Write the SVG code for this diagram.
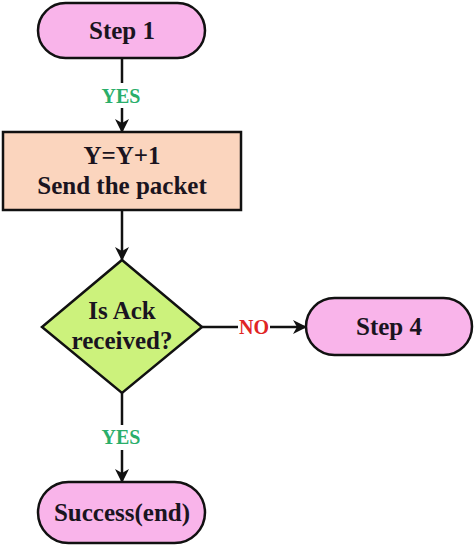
<svg xmlns="http://www.w3.org/2000/svg" width="474" height="547" viewBox="0 0 474 547">
<defs>
<marker id="ah" markerWidth="14" markerHeight="14" refX="13" refY="7" orient="auto" markerUnits="userSpaceOnUse" viewBox="0 0 14 14">
<path d="M0,0 L14,7 L0,14 L4,7 Z" fill="#111"/>
</marker>
<style>
.t{font-family:"Liberation Serif","Times New Roman",serif;font-weight:bold;font-size:25px;fill:#1a1420;text-anchor:middle}
.term{fill:#f9b4ea;stroke:#111;stroke-width:2.5}
.lbl{font-family:"Liberation Serif","Times New Roman",serif;font-weight:bold;font-size:20px;text-anchor:middle}
.c{stroke:#111;stroke-width:2.5;fill:none}
</style>
</defs>
<rect width="474" height="547" fill="#fff"/>
<g id="connectors">
<line class="c" x1="122" y1="58" x2="122" y2="83"/>
<line class="c" x1="122" y1="108" x2="122" y2="132" marker-end="url(#ah)"/>
<line class="c" x1="122" y1="210" x2="122" y2="260" marker-end="url(#ah)"/>
<line class="c" x1="202" y1="327" x2="238" y2="327"/>
<line class="c" x1="270" y1="327" x2="306" y2="327" marker-end="url(#ah)"/>
<line class="c" x1="122" y1="393" x2="122" y2="425"/>
<line class="c" x1="122" y1="450" x2="122" y2="482" marker-end="url(#ah)"/>
<text class="lbl" x="121" y="103" fill="#2aae6a">YES</text>
<text class="lbl" x="254" y="334" fill="#e02424">NO</text>
<text class="lbl" x="121" y="444" fill="#2aae6a">YES</text>
</g>
<g id="step1">
<rect class="term" x="38" y="3" width="167" height="55" rx="27.5"/>
<text class="t" x="122" y="39">Step 1</text>
</g>
<g id="send">
<rect x="3" y="132" width="238" height="78" fill="#fbd5be" stroke="#111" stroke-width="2.5"/>
<text class="t" x="122" y="164">Y=Y+1</text>
<text class="t" x="122" y="194">Send the packet</text>
</g>
<g id="decision">
<polygon points="122,260 202,327 122,393 42,327" fill="#ccf27c" stroke="#111" stroke-width="2.5"/>
<text class="t" x="122" y="319">Is Ack</text>
<text class="t" x="122" y="349">received?</text>
</g>
<g id="step4">
<rect class="term" x="306" y="298" width="166" height="57" rx="28.5"/>
<text class="t" x="389" y="335">Step 4</text>
</g>
<g id="success">
<rect class="term" x="38" y="482" width="167" height="61" rx="30.5"/>
<text class="t" x="122" y="521">Success(end)</text>
</g>
</svg>
